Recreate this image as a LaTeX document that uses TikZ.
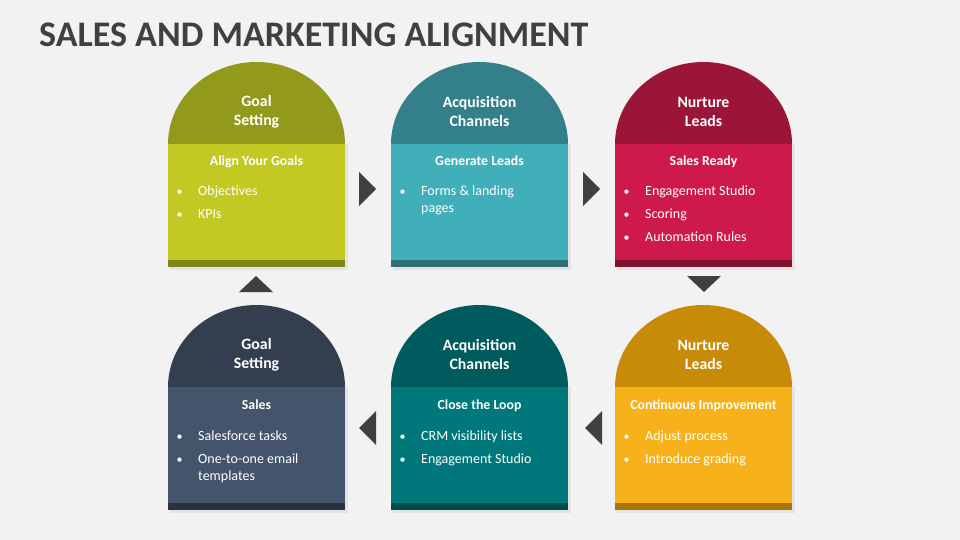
\documentclass[tikz,border=0pt]{standalone}
\usepackage{fontspec}
\setmainfont{Carlito}
\definecolor{bg}{HTML}{F2F2F2}
\definecolor{ink}{HTML}{404040}
\definecolor{dA}{HTML}{939A1B}\definecolor{bA}{HTML}{C3C923}\definecolor{sA}{HTML}{80871A}
\definecolor{dB}{HTML}{34808A}\definecolor{bB}{HTML}{40AFB9}\definecolor{sB}{HTML}{2D6F77}
\definecolor{dC}{HTML}{9A1538}\definecolor{bC}{HTML}{CD1A4B}\definecolor{sC}{HTML}{7F1230}
\definecolor{dD}{HTML}{333F4F}\definecolor{bD}{HTML}{44546A}\definecolor{sD}{HTML}{283241}
\definecolor{dE}{HTML}{005B5E}\definecolor{bE}{HTML}{00787B}\definecolor{sE}{HTML}{004A4C}
\definecolor{dF}{HTML}{C78B08}\definecolor{bF}{HTML}{F6B11B}\definecolor{sF}{HTML}{A8750A}
\tikzset{
  head/.style={text=white,align=center,font=\fontsize{15.8}{19}\selectfont\bfseries,inner sep=0pt},
  subhead/.style={text=white,font=\fontsize{13.8}{16}\selectfont\bfseries,inner sep=0pt,text height=9.5pt,text depth=2.5pt},
  item/.style={text=white,font=\fontsize{14}{17}\selectfont,inner sep=0pt,anchor=west,text height=10pt,text depth=3pt},
  arrowtri/.style={fill=ink},
}
% #1 name, #2 left x, #3 body top y, #4 dome, #5 body, #6 strip, #7 header, #8 subheader
\newcommand\mycard[8]{%
  \fill[black,opacity=0.06] (#2+2,#3) rectangle (#2+180,#3+126);
  \fill[#4] (#2,#3) .. controls (#2,#3-45.3) and (#2+39.6,#3-82) .. (#2+88.5,#3-82)
     .. controls (#2+137.4,#3-82) and (#2+177,#3-45.3) .. (#2+177,#3) -- cycle;
  \fill[#6] (#2,#3+112) rectangle (#2+177,#3+123);
  \fill[#5] (#2,#3) rectangle (#2+177,#3+116);
  \node[head] (#1h) at (#2+88.5,#3-32) {#7};
  \node[subhead] (#1s) at (#2+88.5,#3+18.5) {#8};
}
% #1 name, #2 left x, #3 y, #4 text
\newcommand\myitem[4]{%
  \node[item,font=\fontsize{12}{14}\selectfont] (#1b) at (#2+8.5,#3+1.5) {•};
  \node[item] (#1t) at (#2+30,#3+1.5) {#4};
}
\begin{document}
\begin{tikzpicture}[x=1pt,y=-1pt]
\fill[bg] (0,0) rectangle (960,540);
\useasboundingbox (0,0) rectangle (960,540);
\node[anchor=base west,inner sep=0pt,text=ink,font=\fontsize{36}{40}\selectfont\bfseries] (title) at (39,47) {SALES AND MARKETING ALIGNMENT};

% top row
\mycard{c1}{168}{144}{dA}{bA}{sA}{Goal\\Setting}{Align Your Goals}
\myitem{c1i1}{168}{190}{Objectives}
\myitem{c1i2}{168}{213}{KPIs}

\mycard{c2}{391}{144}{dB}{bB}{sB}{Acquisition\\Channels}{Generate Leads}
\myitem{c2i1}{391}{190}{Forms \& landing}
\node[item] (c2i1c) at (421,209) {pages};

\mycard{c3}{615}{144}{dC}{bC}{sC}{Nurture\\Leads}{Sales Ready}
\myitem{c3i1}{615}{190}{Engagement Studio}
\myitem{c3i2}{615}{213}{Scoring}
\myitem{c3i3}{615}{236}{Automation Rules}

% bottom row
\mycard{c4}{168}{387}{dD}{bD}{sD}{Goal\\Setting}{Sales}
\myitem{c4i1}{168}{435}{Salesforce tasks}
\myitem{c4i2}{168}{458}{One-to-one email}
\node[item] (c4i2c) at (198,477) {templates};

\mycard{c5}{391}{387}{dE}{bE}{sE}{Acquisition\\Channels}{Close the Loop}
\myitem{c5i1}{391}{435}{CRM visibility lists}
\myitem{c5i2}{391}{458}{Engagement Studio}

\mycard{c6}{615}{387}{dF}{bF}{sF}{Nurture\\Leads}{Continuous Improvement}
\myitem{c6i1}{615}{435}{Adjust process}
\myitem{c6i2}{615}{458}{Introduce grading}

% arrows
\fill[arrowtri] (359,172) -- (376,189) -- (359,206) -- cycle;
\fill[arrowtri] (583,172) -- (600,189) -- (583,206) -- cycle;
\fill[arrowtri] (687,276) -- (721,276) -- (704,292) -- cycle;
\fill[arrowtri] (602,411) -- (602,445) -- (585,428) -- cycle;
\fill[arrowtri] (376,411) -- (376,445) -- (359,428) -- cycle;
\fill[arrowtri] (239,292) -- (273,292) -- (256,276) -- cycle;
\end{tikzpicture}
\end{document}
